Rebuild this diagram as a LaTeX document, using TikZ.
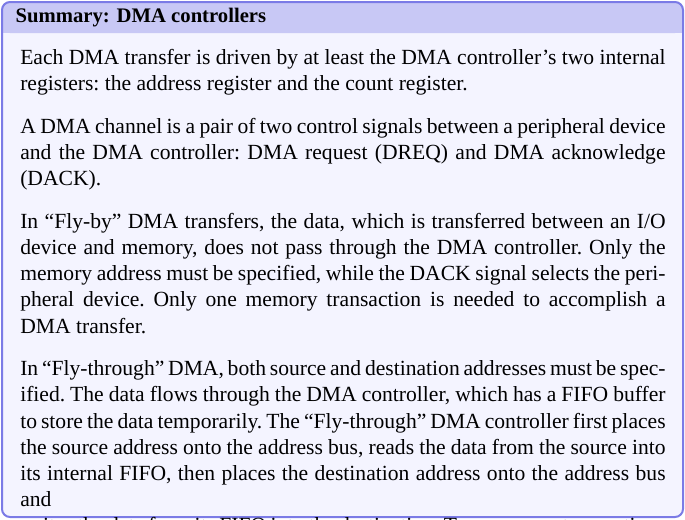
\documentclass[tikz,border=0pt]{standalone}
\usepackage{fontspec}
\setmainfont{Liberation Serif}
\definecolor{frame}{HTML}{7B7BE6}
\definecolor{titlebg}{HTML}{C8C8F5}
\definecolor{bodybg}{HTML}{F4F4FF}
\begin{document}
\begin{tikzpicture}[x=0.75pt,y=-0.75pt]
\useasboundingbox (0,0) rectangle (685,519);
\fill[bodybg,rounded corners=6pt] (2,2) rectangle (683,517);
\fill[titlebg,rounded corners=6pt] (2,2) rectangle (683,33);
\fill[titlebg] (2,20) rectangle (683,33);
\draw[frame,line width=1.5pt,rounded corners=6pt] (2,2) rectangle (683,517);
\node[anchor=west,font=\bfseries\fontsize{15.5}{18}\selectfont] (title) at (11,17.5) {Summary: DMA controllers};
\node[anchor=north west,inner sep=0pt,text width=484pt,align=justify,
  font=\fontsize{16.2}{19.6}\selectfont] (body) at (20,49) {%
\frenchspacing\setlength{\parskip}{12.5pt}\emergencystretch=2em%
Each DMA transfer is driven by at least the DMA controller’s two internal registers: the address register and the count register.\par
A DMA channel is a pair of two control signals between a peripheral device and the DMA controller: DMA request (DREQ) and DMA acknowledge (DACK).\par
In “Fly-by” DMA transfers, the data, which is transferred between an I/O device and memory, does not pass through the DMA controller. Only the memory address must be specified, while the DACK signal selects the peri-\linebreak pheral device. Only one memory transaction is needed to accomplish a DMA transfer.\par
In “Fly-through” DMA, both source and destination addresses must be spec-\linebreak ified. The data flows through the DMA controller, which has a FIFO buffer\linebreak to store the data temporarily. The “Fly-through” DMA controller first places\linebreak the source address onto the address bus, reads the data from the source into\linebreak its internal FIFO, then places the destination address onto the address bus and\linebreak writes the data from its FIFO into the destination. Two memory transactions\linebreak are required to accomplish one DMA transfer.\par};
\end{tikzpicture}
\end{document}
